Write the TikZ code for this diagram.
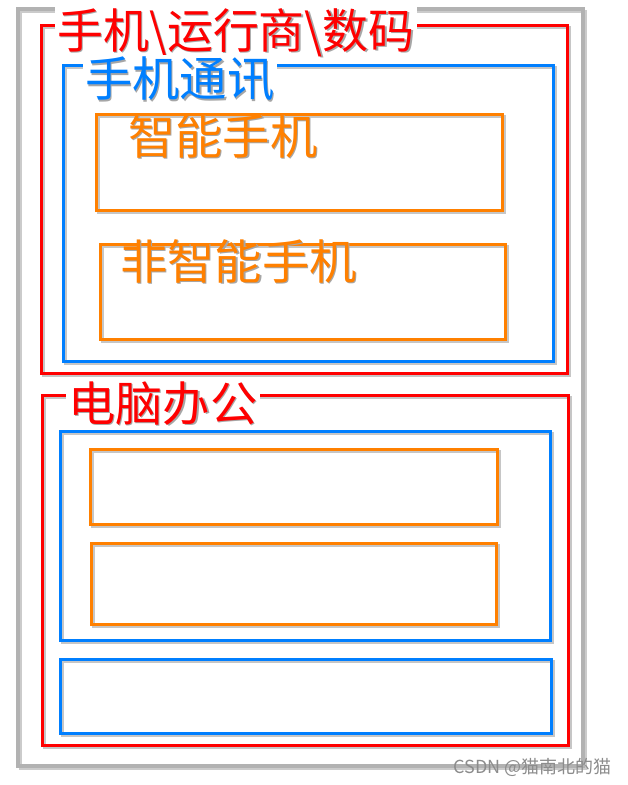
\documentclass[tikz,border=0pt]{standalone}
\usepackage{graphicx}
\usepackage{fontspec}
\newfontfamily\cjk{Noto Sans CJK SC}
\definecolor{cred}{RGB}{255,0,0}
\definecolor{cblue}{RGB}{0,127,255}
\definecolor{corange}{RGB}{255,128,0}
\newcommand\shtxt[2]{\leavevmode\rlap{\raisebox{-1pt}{\kern1pt\textcolor{black!35}{#2}}}\textcolor{#1}{#2}}
\tikzset{
  box/.style={line width=2.25pt, preaction={draw=black!50, opacity=0.45, line width=2.25pt, transform canvas={shift={(1.5pt,-1.5pt)}}}},
  outerbox/.style={draw=black!30, line width=2.6pt, preaction={draw=black!45, opacity=0.45, line width=2.6pt, transform canvas={shift={(1.8pt,-1.8pt)}}}},
  lbl/.style={anchor=west, fill=white, inner sep=1.5pt, font=\cjk\fontsize{35.5pt}{37pt}\selectfont},
  wmark/.style={anchor=east, inner sep=0pt, text=black!45, font=\cjk\fontsize{13.5pt}{15pt}\selectfont}
}
\begin{document}
\begin{tikzpicture}[x=0.75pt,y=-0.75pt]
\useasboundingbox (0,0) rectangle (628,785);
% outer frame
\draw[outerbox] (18,9) rectangle (583,766);
% group 1
\draw[box, draw=cred] (41,25) rectangle (567,373);
\draw[box, draw=cblue] (63,65) rectangle (553,361);
\draw[box, draw=corange] (96,114) rectangle (502,210);
\draw[box, draw=corange] (100,244) rectangle (505,339);
% group 2
\draw[box, draw=cred] (42,395) rectangle (568,745);
\draw[box, draw=cblue] (60,431) rectangle (550,640);
\draw[box, draw=corange] (90,449) rectangle (497,524);
\draw[box, draw=corange] (91,543) rectangle (496,624);
\draw[box, draw=cblue] (60,659) rectangle (551,733);
% labels
\node[lbl] (l1) at (55,33) {\scalebox{0.97}[1]{\shtxt{cred}{手机\textbackslash 运行商\textbackslash 数码}}};
\node[lbl] (l2) at (83,80) {\shtxt{cblue}{手机通讯}};
\node[lbl, fill=none] (l3) at (126,137) {\shtxt{corange}{智能手机}};
\node[lbl, fill=none] (l4) at (118,262) {\shtxt{corange}{非智能手机}};
\node[lbl] (l5) at (66,404) {\shtxt{cred}{电脑办公}};
\node[wmark] (wm) at (612,767) {CSDN @猫南北的猫};
\end{tikzpicture}
\end{document}
